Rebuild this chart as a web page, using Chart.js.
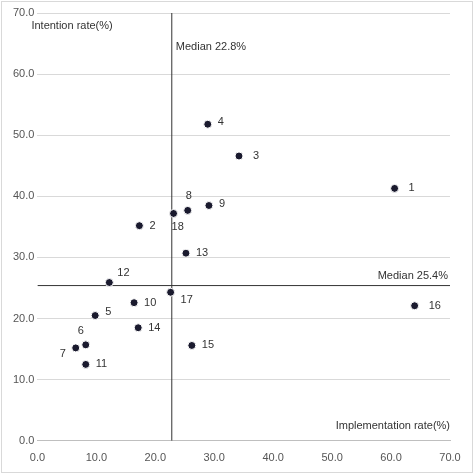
<!DOCTYPE html>
<html><head><meta charset="utf-8">
<script src="https://cdn.jsdelivr.net/npm/chart.js@4/dist/chart.umd.min.js"></script>
<style>
html,body{margin:0;padding:0;background:#fff}
#wrap{position:absolute;left:1px;top:1px;width:470px;height:470px;border:1px solid #d9d9d9}
</style></head><body>
<div id="wrap"><canvas id="c"></canvas></div>
<script>
// scatter data
var labels = ["1","2","3","4","5","6","7","8","9","10","11","12","13","14","15","16","17","18"];
var implRate = [60.6,17.3,34.2,28.9,9.8,8.2,6.5,25.5,29.1,16.4,8.2,12.2,25.2,17.1,26.2,64.0,22.6,23.1];
var intentRate = [41.3,35.2,46.6,51.8,20.5,15.7,15.2,37.7,38.5,22.6,12.5,25.9,30.7,18.5,15.6,22.1,24.3,37.2];
var medianX = 22.8, medianY = 25.4;
// label offsets (px) per point
var labelDx = [14,10,14,10,10,-8,-16,-2,10,10,10,8,10,10,10,14,10,-2];
var labelDy = [0,0,0,-2,-4,-14,6,-14,-2,0,0,-10,0,0,0,0,8,14];

var pts = implRate.map(function(x, i){ return {x: x, y: intentRate[i]}; });

var labelPlugin = {
  id: 'ptLabels',
  afterDatasetsDraw: function(chart){
    var ctx = chart.ctx, xs = chart.scales.x, ys = chart.scales.y;
    ctx.save();
    ctx.font = '11px "Liberation Sans", Arial';
    ctx.fillStyle = '#333';
    ctx.textAlign = 'left'; ctx.textBaseline = 'middle';
    pts.forEach(function(p, i){
      ctx.fillText(labels[i], xs.getPixelForValue(p.x) + labelDx[i], ys.getPixelForValue(p.y) + labelDy[i]);
    });
    ctx.fillText('Median 22.8%', xs.getPixelForValue(medianX) + 4, ys.getPixelForValue(64.4));
    ctx.textAlign = 'right';
    ctx.fillText('Median 25.4%', xs.getPixelForValue(70) - 2, ys.getPixelForValue(medianY) - 10);
    ctx.fillText('Implementation rate(%)', xs.getPixelForValue(70), ys.getPixelForValue(2.5));
    ctx.textAlign = 'left';
    ctx.fillText('Intention rate(%)', xs.getPixelForValue(0) - 6, ys.getPixelForValue(67.8));
    ctx.restore();
  }
};

new Chart(document.getElementById('c'), {
  type: 'scatter',
  data: {
    datasets: [
      {data: pts, backgroundColor: '#1a1a2e', borderColor: '#fff', borderWidth: 1, pointRadius: 4},
      {type: 'line', data: [{x: medianX, y: 0}, {x: medianX, y: 70}], borderColor: '#333', borderWidth: 1, pointRadius: 0},
      {type: 'line', data: [{x: 0, y: medianY}, {x: 70, y: medianY}], borderColor: '#333', borderWidth: 1, pointRadius: 0}
    ]
  },
  options: {
    responsive: true, maintainAspectRatio: false, animation: false,
    layout: {padding: {left: 8, right: 22, top: 11, bottom: 4}},
    plugins: {legend: {display: false}, tooltip: {enabled: false}},
    scales: {
      x: {min: 0, max: 70, ticks: {stepSize: 10, color: '#555', font: {size: 11}, callback: function(v){ return v.toFixed(1); }},
          grid: {display: false}, border: {color: '#bfbfbf'}},
      y: {min: 0, max: 70, ticks: {stepSize: 10, color: '#555', font: {size: 11}, callback: function(v){ return v.toFixed(1); }},
          grid: {color: '#d9d9d9', drawTicks: false}, border: {display: false}}
    }
  },
  plugins: [labelPlugin]
});
</script>
</body></html>
